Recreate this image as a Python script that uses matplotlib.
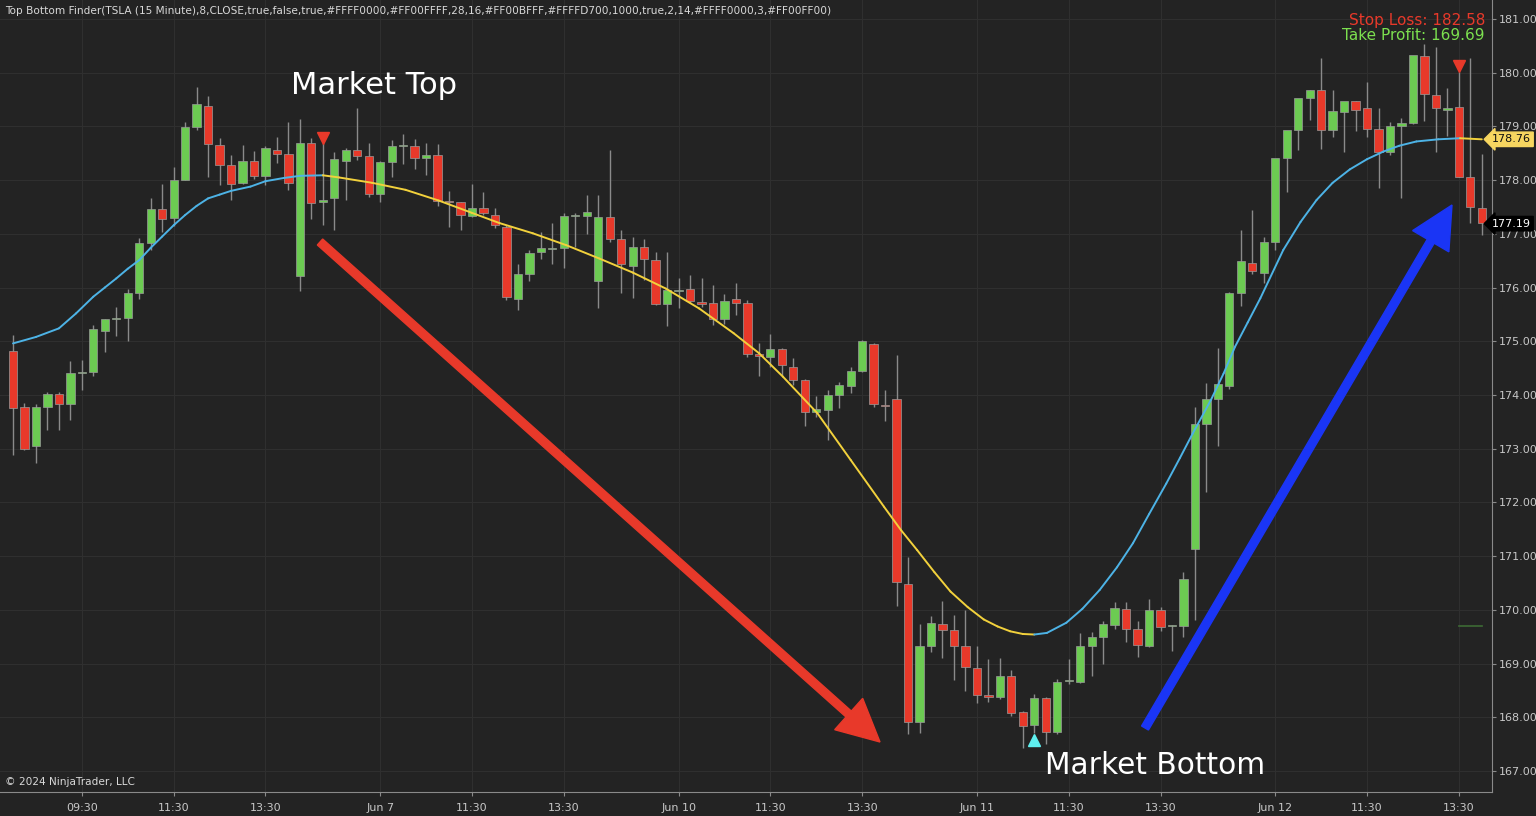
import matplotlib
matplotlib.use("Agg")
import matplotlib.pyplot as plt
from matplotlib.patches import FancyArrow, Rectangle
import numpy as np

# OHLC per 15-minute bar (index 0..128)
opens = [174.82,173.77,173.05,173.78,174.02,173.83,174.40,174.42,175.20,175.41,175.43,175.90,176.83,177.47,177.30,178.01,178.99,179.38,178.65,178.29,
         177.95,178.36,178.08,178.57,178.48,176.22,178.69,177.59,177.66,178.35,178.56,178.44,177.74,178.34,178.63,178.64,178.41,178.46,177.60,177.59,
         177.33,177.49,177.36,177.13,175.78,176.25,176.67,176.72,176.74,177.33,177.33,176.12,177.31,176.90,176.40,176.76,176.51,175.69,175.94,175.98,
         175.74,175.72,175.42,175.78,175.72,174.76,174.70,174.86,174.53,174.28,173.68,173.72,174.00,174.17,174.45,174.94,173.82,173.92,170.48,167.92,
         169.32,169.73,169.62,169.32,168.91,168.41,168.37,168.77,168.10,167.85,168.35,167.73,168.68,168.66,169.32,169.49,169.71,170.01,169.65,169.32,
         169.99,169.70,169.70,171.13,173.46,173.92,174.17,175.89,176.46,176.28,176.85,178.42,178.94,179.53,179.67,178.94,179.26,179.48,179.34,178.96,
         178.53,179.01,179.06,180.31,179.58,179.31,179.36,178.06,177.49]
highs = [175.11,173.85,173.83,174.06,174.06,174.64,174.66,175.30,175.41,175.64,175.97,176.92,177.66,177.92,178.24,179.09,179.73,179.57,178.78,178.47,
         178.65,178.54,178.63,178.81,179.09,179.13,178.78,178.69,178.53,178.59,179.34,178.69,178.36,178.75,178.85,178.76,178.70,178.67,177.79,177.60,
         177.92,177.77,177.49,177.16,176.44,176.70,177.03,177.20,177.38,177.38,177.73,177.72,178.56,177.08,176.95,176.91,176.67,176.67,176.17,176.23,
         176.17,176.05,175.88,176.08,175.77,174.96,175.13,174.88,174.68,174.30,173.99,174.10,174.25,174.53,175.03,174.96,174.10,174.74,170.98,169.73,
         169.88,170.16,169.90,169.99,169.32,169.09,169.11,168.88,168.12,168.44,168.37,168.72,169.09,169.56,169.59,169.80,170.15,170.15,169.80,170.21,
         170.06,169.72,170.71,173.77,174.23,174.87,175.92,177.07,177.44,176.95,176.88,178.45,178.96,179.68,180.27,179.67,179.42,179.47,179.83,179.34,
         179.09,179.15,179.40,180.53,180.47,179.71,180.02,180.27,178.49,178.08]
lows = [172.88,172.97,172.73,173.35,173.35,173.53,174.09,174.35,174.80,175.10,175.00,175.78,176.70,177.04,177.14,178.00,178.93,178.06,177.91,177.63,
        177.93,178.03,177.91,178.32,177.82,175.94,177.28,177.16,177.07,177.63,178.37,177.68,177.59,178.05,178.30,178.20,178.10,177.51,177.13,177.07,
        177.31,177.36,177.11,175.76,175.58,176.13,176.53,176.43,176.36,176.75,177.00,175.62,176.85,175.89,175.81,176.14,175.67,175.29,175.61,175.72,
        175.64,175.30,175.33,175.48,174.71,174.35,174.53,174.35,174.18,173.42,173.59,173.16,173.76,174.03,174.43,173.77,173.52,170.07,167.69,167.71,
        169.22,169.10,168.69,168.49,168.27,168.29,168.34,168.02,167.42,167.70,167.51,167.68,168.62,168.64,168.77,169.00,169.65,169.40,169.13,169.30,
        169.61,169.24,169.50,169.81,172.20,173.05,174.12,175.65,176.26,176.08,176.70,177.77,178.57,179.12,178.58,178.80,178.53,178.92,178.81,177.85,
        178.47,177.66,179.04,179.11,178.53,178.82,178.05,177.21,176.98]
closes = [173.75,173.00,173.78,174.01,173.84,174.40,174.43,175.22,175.41,175.44,175.90,176.83,177.46,177.27,178.01,178.98,179.42,178.67,178.29,177.92,
          178.36,178.08,178.59,178.49,177.94,178.69,177.57,177.63,178.39,178.56,178.44,177.74,178.34,178.63,178.65,178.41,178.46,177.61,177.59,177.36,
          177.49,177.38,177.16,175.82,176.25,176.64,176.73,176.72,177.33,177.33,177.40,177.31,176.90,176.43,176.75,176.53,175.69,175.95,175.94,175.75,
          175.69,175.42,175.75,175.72,174.76,174.72,174.85,174.55,174.28,173.68,173.73,174.00,174.18,174.45,175.01,173.83,173.79,170.51,167.92,169.32,
          169.75,169.62,169.33,168.94,168.41,168.37,168.77,168.08,167.83,168.35,167.73,168.66,168.68,169.32,169.50,169.73,170.03,169.65,169.34,170.00,
          169.68,169.70,170.58,173.46,173.92,174.20,175.89,176.50,176.30,176.85,178.42,178.93,179.53,179.67,178.94,179.29,179.47,179.31,178.96,178.53,
          179.00,179.07,180.33,179.60,179.34,179.35,178.06,177.50,177.20]

# indicator line readings (bar, price)
line_bars = [0, 2, 4, 5.5, 7, 8, 9, 10, 11, 12, 13, 14, 15, 16, 17, 18, 19, 20.7, 22, 23.6, 25, 27, 28.4, 31.3, 34.2, 37.1, 40, 42.4, 45.3, 48.2, 51.1, 54,
             56.9, 59.8, 62.8, 65, 67.1, 70.1, 73, 75.9, 77.4, 78.8, 80.3, 81.7, 83.2, 84.6, 85.8, 86.9, 88, 89, 90.1, 91.8, 93.2, 94.7, 96.2, 97.6,
             99, 100.5, 101.7, 102.8, 104.4, 105.5, 106.5, 107.6, 108.7, 110.7, 112.2, 113.6, 115, 116.5, 118, 119.4, 120.8, 122.3, 124.2, 126.1, 128]
line_vals = [174.96, 175.08, 175.24, 175.52, 175.83, 176.00, 176.17, 176.35, 176.51, 176.74, 176.95, 177.16, 177.35, 177.52, 177.66, 177.73,
             177.80, 177.88, 177.98, 178.04, 178.08, 178.09, 178.05, 177.95, 177.82, 177.62, 177.39, 177.20, 177.01, 176.79, 176.54, 176.28,
             175.98, 175.61, 175.15, 174.78, 174.34, 173.66, 172.79, 171.92, 171.48, 171.11, 170.70, 170.34, 170.05, 169.82, 169.69, 169.60,
             169.55, 169.54, 169.57, 169.76, 170.02, 170.37, 170.79, 171.24, 171.78, 172.35, 172.83, 173.28, 173.91, 174.40, 174.90, 175.35,
             175.80, 176.70, 177.22, 177.63, 177.95, 178.20, 178.39, 178.53, 178.64, 178.72, 178.76, 178.78, 178.76]

xtick_pos = [6, 14, 22, 32, 40, 48, 58, 66, 74, 84, 92, 100, 110, 118, 126]
xtick_lab = ["09:30", "11:30", "13:30", "Jun 7", "11:30", "13:30", "Jun 10", "11:30", "13:30",
             "Jun 11", "11:30", "13:30", "Jun 12", "11:30", "13:30"]
ytick_vals = list(range(167, 182))

BG = "#232323"
GREEN = "#6ccb52"
RED = "#e8392a"
W, H = 1536, 816
fig = plt.figure(figsize=(W/100, H/100), dpi=100, facecolor=BG)
ax = fig.add_axes([0, 1-792/H, 1492/W, 792/H], facecolor=BG)
ax.set_xlim(-13/11.475, (1492-13)/11.475)
ax.set_ylim(181 - 773/53.71, 181 + 19/53.71)

for v in ytick_vals:
    ax.axhline(v, color="#2f2f2f", lw=0.8, zorder=0)
for p in xtick_pos:
    ax.axvline(p, color="#2f2f2f", lw=0.8, zorder=0)

bw = 0.72
for i, (o, h, l, c) in enumerate(zip(opens, highs, lows, closes)):
    col = GREEN if c >= o else RED
    ax.vlines(i, l, h, color="#8a8a8a", lw=1.0, zorder=2)
    bot, top = min(o, c), max(o, c)
    ax.add_patch(Rectangle((i - bw/2, bot), bw, max(top - bot, 0.02), facecolor=col,
                           edgecolor="#9a9a9a", lw=0.5, zorder=3))

# indicator line coloured by direction
lb = np.array(line_bars); lv = np.array(line_vals)
for k in range(len(lb) - 1):
    col = "#4db3e6" if lv[k+1] >= lv[k] else "#f2d13c"
    ax.plot(lb[k:k+2], lv[k:k+2], color=col, lw=1.4, zorder=4, solid_capstyle="round")

# markers
ax.plot(27, highs[27] + 0.1, marker="v", color="#e8392a", ms=8, zorder=5)
ax.plot(126, highs[126] + 0.1, marker="v", color="#e8392a", ms=8, zorder=5)
ax.plot(89, lows[89] - 0.13, marker="^", color="#5ff0f0", ms=8, zorder=5)
ax.plot([126, 128], [169.69, 169.69], color="#3d6b35", lw=1.2, zorder=4)

# ticks
ax.set_xticks(xtick_pos)
ax.set_xticklabels(xtick_lab)
ax.set_yticks(ytick_vals)
ax.set_yticklabels([f"{v:.2f}" for v in ytick_vals])
ax.yaxis.tick_right()
ax.tick_params(axis="both", colors="#c8c8c8", labelsize=8, length=3, color="#8a8a8a")
ax.tick_params(axis="y", pad=2)
ax.tick_params(axis="x", pad=5)
for s in ["top", "left"]:
    ax.spines[s].set_visible(False)
for s in ["right", "bottom"]:
    ax.spines[s].set_color("#8a8a8a")

# price labels at right
ax.text(1.0, 178.76, "178.76", transform=ax.get_yaxis_transform(), va="center", ha="left",
        fontsize=8, color="#111111", bbox=dict(boxstyle="larrow,pad=0.2", fc="#f7d660", ec="#f7d660"), zorder=10, clip_on=False)
ax.text(1.0, 177.19, "177.19", transform=ax.get_yaxis_transform(), va="center", ha="left",
        fontsize=8, color="#ffffff", bbox=dict(boxstyle="larrow,pad=0.2", fc="#000000", ec="#000000"), zorder=10, clip_on=False)

# texts
fig.text(5/W, 1-11/H, "Top Bottom Finder(TSLA (15 Minute),8,CLOSE,true,false,true,#FFFF0000,#FF00FFFF,28,16,#FF00BFFF,#FFFFD700,1000,true,2,14,#FFFF0000,3,#FF00FF00)",
         fontsize=7.6, color="#d8d8d8", va="center", ha="left")
fig.text(5/W, 1-782/H, "© 2024 NinjaTrader, LLC", fontsize=7.6, color="#d8d8d8", va="center")
fig.text(1485/W, 1-20/H, "Stop Loss: 182.58", fontsize=11, color="#e8392a", ha="right", va="center")
fig.text(1485/W, 1-35/H, "Take Profit: 169.69", fontsize=11, color="#7ce04f", ha="right", va="center")
fig.text(291/W, 1-85/H, "Market Top", fontsize=22, color="white", ha="left", va="center")
fig.text(1045/W, 1-766/H, "Market Bottom", fontsize=21.3, color="white", ha="left", va="center")

def arrow(x0, y0, x1, y1, col):
    dx, dy = x1 - x0, -(y1 - y0)
    a = FancyArrow(x0, H - y0, dx, dy, width=8, head_width=42, head_length=42,
                   length_includes_head=True, color=col, transform=None)
    fig.patches.append(a)

arrow(320, 242, 880, 742, "#e8392a")
arrow(1145, 728, 1452, 205, "#1a35f5")

fig.savefig("out.png", dpi=100, facecolor=BG)
